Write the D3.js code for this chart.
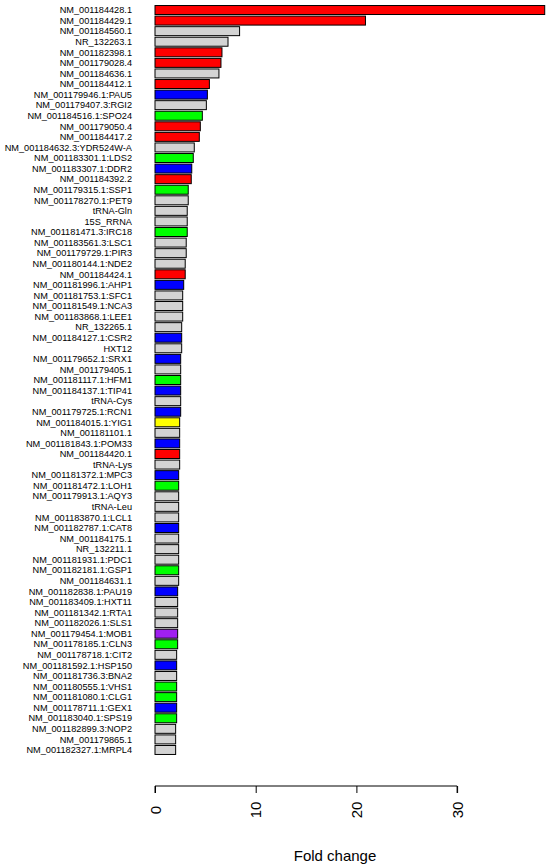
<!DOCTYPE html>
<html><head><meta charset="utf-8">
<script src="https://d3js.org/d3.v7.min.js"></script>
<style>body{margin:0;background:#fff}</style></head>
<body><svg id="c" width="550" height="867"></svg>
<script>
const labels=["NM_001184428.1","NM_001184429.1","NM_001184560.1","NR_132263.1","NM_001182398.1","NM_001179028.4","NM_001184636.1","NM_001184412.1","NM_001179946.1:PAU5","NM_001179407.3:RGI2","NM_001184516.1:SPO24","NM_001179050.4","NM_001184417.2","NM_001184632.3:YDR524W-A","NM_001183301.1:LDS2","NM_001183307.1:DDR2","NM_001184392.2","NM_001179315.1:SSP1","NM_001178270.1:PET9","tRNA-Gln","15S_RRNA","NM_001181471.3:IRC18","NM_001183561.3:LSC1","NM_001179729.1:PIR3","NM_001180144.1:NDE2","NM_001184424.1","NM_001181996.1:AHP1","NM_001181753.1:SFC1","NM_001181549.1:NCA3","NM_001183868.1:LEE1","NR_132265.1","NM_001184127.1:CSR2","HXT12","NM_001179652.1:SRX1","NM_001179405.1","NM_001181117.1:HFM1","NM_001184137.1:TIP41","tRNA-Cys","NM_001179725.1:RCN1","NM_001184015.1:YIG1","NM_001181101.1","NM_001181843.1:POM33","NM_001184420.1","tRNA-Lys","NM_001181372.1:MPC3","NM_001181472.1:LOH1","NM_001179913.1:AQY3","tRNA-Leu","NM_001183870.1:LCL1","NM_001182787.1:CAT8","NM_001184175.1","NR_132211.1","NM_001181931.1:PDC1","NM_001182181.1:GSP1","NM_001184631.1","NM_001182838.1:PAU19","NM_001183409.1:HXT11","NM_001181342.1:RTA1","NM_001182026.1:SLS1","NM_001179454.1:MOB1","NM_001178185.1:CLN3","NM_001178718.1:CIT2","NM_001181592.1:HSP150","NM_001181736.3:BNA2","NM_001180555.1:VHS1","NM_001181080.1:CLG1","NM_001178711.1:GEX1","NM_001183040.1:SPS19","NM_001182899.3:NOP2","NM_001179865.1","NM_001182327.1:MRPL4"];
const values=[38.7,20.9,8.4,7.25,6.65,6.55,6.35,5.4,5.2,5.1,4.7,4.5,4.4,3.9,3.8,3.65,3.6,3.3,3.3,3.2,3.2,3.2,3.1,3.1,3.0,3.0,2.85,2.75,2.75,2.75,2.65,2.65,2.65,2.55,2.55,2.55,2.55,2.55,2.55,2.45,2.45,2.45,2.45,2.45,2.35,2.35,2.35,2.35,2.35,2.35,2.35,2.35,2.35,2.35,2.35,2.25,2.25,2.25,2.25,2.25,2.25,2.15,2.15,2.15,2.15,2.15,2.15,2.15,2.05,2.05,2.05];
const colorCodes=["r","r","g","g","r","r","g","r","b","g","n","r","r","g","n","b","r","n","g","g","g","n","g","g","g","r","b","g","g","g","g","b","g","b","g","n","b","g","b","y","g","b","r","g","b","n","g","g","g","b","g","g","g","n","g","b","g","g","g","p","n","g","b","g","n","n","b","n","g","g","g"];
const colorMap={r:"#ff0000",g:"#d3d3d3",b:"#0000ff",n:"#00ff00",y:"#ffff00",p:"#a020f0"};
const ticks=[0,10,20,30];

const svg=d3.select("#c");
const x=d3.scaleLinear().domain([0,10]).range([155,255.7]);
const y=d3.scaleBand().domain(labels).range([5,755]).paddingInner(0.15).paddingOuter(0.05);
svg.selectAll("rect").data(labels).enter().append("rect")
 .attr("x",x(0)).attr("y",d=>y(d)).attr("height",y.bandwidth())
 .attr("width",(d,i)=>x(values[i])-x(0))
 .attr("fill",(d,i)=>colorMap[colorCodes[i]]).attr("stroke","#000").attr("stroke-width",1);
svg.selectAll("text.lab").data(labels).enter().append("text").attr("class","lab")
 .attr("x",132).attr("y",d=>y(d)+y.bandwidth()/2).attr("dy","0.35em")
 .attr("text-anchor","end").attr("font-family","Liberation Sans, Arial, sans-serif")
 .attr("font-size",9.2).attr("fill","#000").text(d=>d);
const ax=svg.append("g").attr("transform","translate(0,786)")
 .call(d3.axisBottom(x).tickValues(ticks).tickSize(7).tickFormat(d3.format("d")));
ax.select(".domain").attr("d",`M${x(0)},7V0H${x(30)}V7`).attr("stroke","#000");
ax.selectAll(".tick text").attr("transform","rotate(-90)").attr("text-anchor","middle")
 .attr("x",-24).attr("y",0).attr("dy","0.35em")
 .attr("font-size",15).attr("font-family","Liberation Sans, Arial, sans-serif");
svg.append("text").attr("x",335).attr("y",861).attr("text-anchor","middle")
 .attr("font-family","Liberation Sans, Arial, sans-serif").attr("font-size",15).text("Fold change");
</script></body></html>
